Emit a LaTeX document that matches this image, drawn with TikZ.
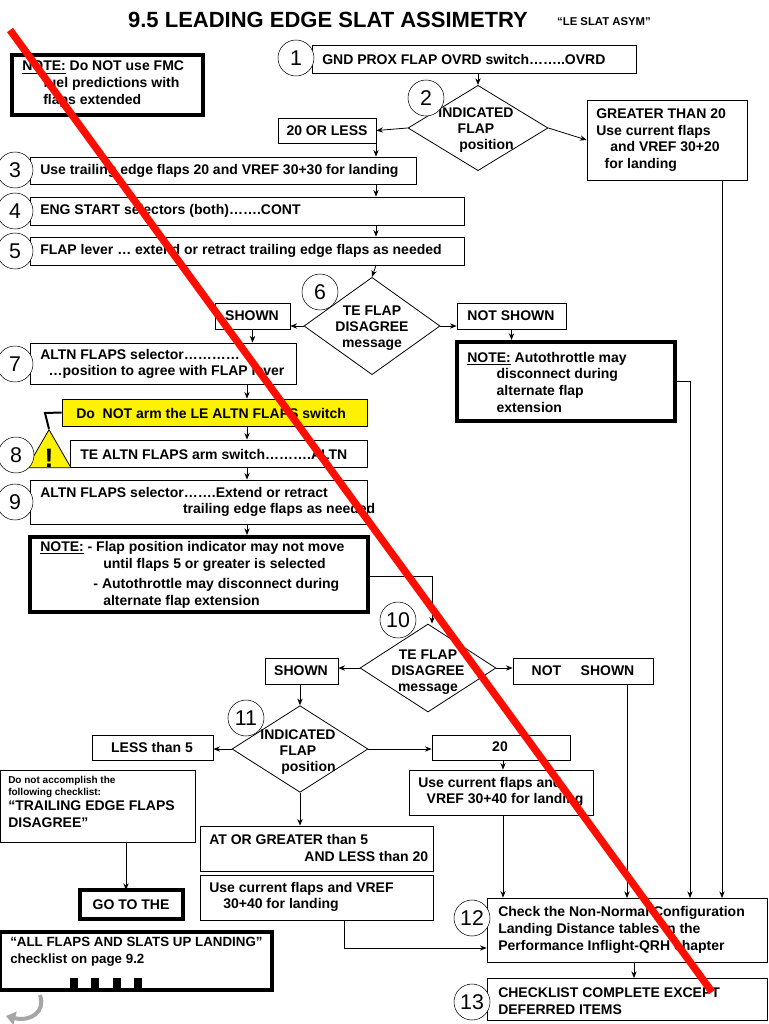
\documentclass[tikz,border=0pt]{standalone}
\usepackage{fontspec}
\setmainfont{Liberation Sans}
\usetikzlibrary{shapes.geometric,fit,arrows.meta}
\begin{document}
\begin{tikzpicture}[x=0.75pt,y=-0.75pt,
  box/.style={draw,line width=0.6pt,inner sep=0pt,fill=white},
  tbox/.style={draw,line width=3pt,inner sep=0pt,fill=white},
  txt/.style={font=\fontsize{10.5}{12.5}\selectfont\bfseries,anchor=west,align=left,inner sep=0pt},
  ctxt/.style={font=\fontsize{10.5}{12.5}\selectfont\bfseries,align=center,inner sep=0pt},
  num/.style={draw,circle,fill=white,minimum size=27pt,inner sep=0pt,font=\fontsize{16}{16}\selectfont},
  dia/.style={draw,diamond,fill=white,inner sep=0pt,line width=0.6pt},
  dtxt/.style={font=\fontsize{10.5}{12}\selectfont\bfseries,align=center,inner sep=0pt},
  arr/.style={-{Stealth[length=5pt,width=4pt]},line width=0.6pt},
  ln/.style={line width=0.6pt}]
\useasboundingbox (0,0) rectangle (768,1024);
\fill[white] (0,0) rectangle (768,1024);
% title
\node[font=\fontsize{16.5}{16.5}\selectfont\bfseries] (title) at (328,20) {9.5 LEADING EDGE SLAT ASSIMETRY};
\node[font=\fontsize{8.5}{8.5}\selectfont\bfseries] (sub) at (604,22) {“LE SLAT ASYM”};
% note top
\node[tbox,fit={(12,55)(203,115)}] (n0) {};
\node[txt] at (22,84) {\underline{NOTE:} Do NOT use FMC\\\hspace{1.5em}fuel predictions with\\\hspace{1.5em}flaps extended};
% step 1
\node[box,fit={(312,45)(636,73)}] (b1) {};
\node[txt] at (322,59) {GND PROX FLAP OVRD switch……..OVRD};
\node[num] (c1) at (296,58) {1};
% diamond 2
\node[dia,minimum width=105pt,minimum height=64pt] (d2) at (478,128) {};
\node[dtxt] (t2) at (476,130) {INDICATED\\FLAP\\\hspace{1.5em}position};
\node[num] (c2) at (426,98) {2};
\node[box,fit={(278,118)(376,143)}] (le20) {};
\node[ctxt] at (327,131) {20 OR LESS};
\node[box,fit={(587,100)(747,180)}] (gt20) {};
\node[txt] at (596,140) {GREATER THAN 20\\Use current flaps\\\hspace{1em}and VREF 30+20\\\hspace{0.6em}for landing};
\draw[arr] (b1.south -| d2.north) -- (d2.north);
\draw[arr] (d2.west) -- (le20.east);
\draw[arr] (d2.east) -- (gt20.west);
% 3 4 5
\node[box,fit={(30,157)(416,184)}] (b3) {};
\node[txt] at (40,171) {Use trailing edge flaps 20 and VREF 30+30 for landing};
\node[num] (c3) at (15,170) {3};
\node[box,fit={(30,197)(464,225)}] (b4) {};
\node[txt] at (40,211) {ENG START selectors (both)…….CONT};
\node[num] (c4) at (15,211) {4};
\node[box,fit={(30,237)(464,265)}] (b5) {};
\node[txt] at (40,251) {FLAP lever … extend or retract trailing edge flaps as needed};
\node[num] (c5) at (15,251) {5};
\coordinate (a3) at (376,143);
\draw[arr] (a3) -- (a3 |- b3.north);
\draw[arr] (a3 |- b3.south) -- (a3 |- b4.north);
\draw[arr] (a3 |- b4.south) -- (a3 |- b5.north);
% diamond 6
\node[dia,minimum width=102pt,minimum height=73pt] (d6) at (372,326) {};
\node[dtxt] (t6) at (372,328) {TE FLAP\\DISAGREE\\message};
\node[num] (c6) at (320,292) {6};
\draw[arr] (a3 |- b5.south) -- (d6.north);
\node[box,fit={(215,303)(290,329)}] (sh6) {};
\node[ctxt] at (252,316) {SHOWN};
\node[box,fit={(457,303)(566,329)}] (ns6) {};
\node[ctxt] at (511,316) {NOT SHOWN};
\draw[arr] (d6.west) -- (sh6.east |- d6.west);
\draw[arr] (d6.east) -- (ns6.west |- d6.east);
% 7
\node[box,fit={(30,343)(296,384)}] (b7) {};
\node[txt] at (40,364) {ALTN FLAPS selector…………\\\hspace{0.6em}…position to agree with FLAP lever};
\node[num] (c7) at (15,364) {7};
\draw[arr] (sh6.south) -- (sh6.south |- b7.north);
\node[tbox,fit={(457,342)(675,421)}] (n7) {};
\node[txt] at (467,382) {\underline{NOTE:} Autothrottle may\\\hspace{2.1em}disconnect during\\\hspace{2.1em}alternate flap\\\hspace{2.1em}extension};
\draw[arr] (ns6.south) -- (ns6.south |- n7.north);
% caution
\node[box,fill=yellow,fit={(62,399)(367,426)}] (yel) {};
\node[txt] at (76,413) {Do\ \ NOT arm the LE ALTN FLAPS switch};
\coordinate (a7) at (247,384);
\draw[arr] (a7) -- (a7 |- yel.north);
\node[draw,fill=yellow,regular polygon,regular polygon sides=3,minimum size=38pt,inner sep=0pt,line width=0.6pt] (warn) at (49,455) {};
\node[font=\fontsize{20}{20}\selectfont\bfseries] at (49,458) {!};
\draw[ln,line width=1.5pt] (yel.west) -- (45,413) -- (warn.north);
% 8 9
\node[box,fit={(70,440)(367,467)}] (b8) {};
\node[txt] at (80,454) {TE ALTN FLAPS arm switch……….ALTN};
\node[num] (c8) at (16,455) {8};
\node[box,fit={(30,480)(367,524)}] (b9) {};
\node[txt] at (40,502) {ALTN FLAPS selector…….Extend or retract\\\hspace{10.2em}trailing edge flaps as needed};
\node[num] (c9) at (15,502) {9};
\draw[arr] (a7 |- yel.south) -- (a7 |- b8.north);
\draw[arr] (a7 |- b8.south) -- (a7 |- b9.north);
\node[tbox,fit={(30,537)(368,612)}] (n9) {};
\node[txt] at (40,575) {\underline{NOTE:} - Flap position indicator may not move\\\hspace{4.5em}until flaps 5 or greater is selected\\[3pt]\hspace{3.8em}- Autothrottle may disconnect during\\\hspace{4.5em}alternate flap extension};
\draw[arr] (a7 |- b9.south) -- (a7 |- n9.north);
% diamond 10
\node[dia,minimum width=102pt,minimum height=66pt] (d10) at (428,668) {};
\node[dtxt] (t10) at (428,672) {TE FLAP\\DISAGREE\\message};
\node[num] (c10) at (398,620) {10};
\coordinate (k10) at (432,576);
\draw[ln] (368,576) -- (k10);
\draw[arr] (k10) -- (k10 |- d10.north);
\node[box,fit={(265,658)(338,684)}] (sh10) {};
\node[ctxt] at (301,671) {SHOWN};
\node[box,fit={(513,658)(653,684)}] (ns10) {};
\node[ctxt] at (583,671) {NOT\ \ \ \ \ SHOWN};
\draw[arr] (d10.west) -- (sh10.east |- d10.west);
\draw[arr] (d10.east) -- (ns10.west |- d10.east);
% diamond 11
\node[dia,minimum width=102pt,minimum height=65pt] (d11) at (300,749) {};
\node[dtxt] (t11) at (298,752) {INDICATED\\FLAP\\\hspace{1.5em}position};
\node[num] (c11) at (246,718) {11};
\draw[arr] (sh10.south -| d11.north) -- (d11.north);
\node[box,fit={(92,735)(213,760)}] (lt5) {};
\node[ctxt] at (152,747) {LESS than 5};
\node[box,fit={(432,735)(570,760)}] (f20) {};
\node[ctxt] at (500,747) {20};
\draw[arr] (d11.west) -- (lt5.east |- d11.west);
\draw[arr] (d11.east) -- (f20.west |- d11.east);
\node[box,fit={(409,770)(593,815)}] (u20) {};
\node[txt] at (418,792) {Use current flaps and\\\hspace{0.6em}VREF 30+40 for landing};
\coordinate (a20) at (503,760);
\draw[arr] (a20) -- (a20 |- u20.north);
% left branch
\node[box,fit={(0,770)(195,842)}] (dna) {};
\node[font=\fontsize{7.5}{9}\selectfont\bfseries,anchor=north west,align=left,inner sep=0pt] at (8,776) {Do not accomplish the\\following checklist:};
\node[txt] at (8,814) {“TRAILING EDGE FLAPS\\DISAGREE”};
\node[tbox,fit={(80,890)(183,919)}] (go) {};
\node[ctxt,font=\fontsize{10.5}{12}\selectfont\bfseries] at (131,905) {GO TO THE};
\draw[arr] (126,842) -- (126,890);
\node[tbox,fit={(0,932)(272,990)}] (all) {};
\node[txt,font=\fontsize{10}{12.5}\selectfont\bfseries] at (10,952) {“ALL FLAPS AND SLATS UP LANDING”\\checklist on page 9.2};
\foreach \x in {70,91,113,134} \fill (\x,978) rectangle (\x+8,990);
\draw[gray!70,line width=3pt,-{Triangle[length=7pt,width=10pt]}] (40,995) .. controls (46,1012) and (30,1022) .. (6,1016);
% middle
\node[box,fit={(200,826)(433,871)}] (ge5) {};
\node[txt] at (209,848) {AT OR GREATER than 5\\\hspace{6.8em}AND LESS than 20};
\draw[arr] (d11.south) -- (d11.south |- ge5.north);
\node[box,fit={(200,875)(433,920)}] (u5) {};
\node[txt] at (209,897) {Use current flaps and VREF\\\hspace{1em}30+40 for landing};
% 12 13
\node[box,fit={(487,898)(767,962)}] (b12) {};
\node[txt] at (498,930) {Check the Non-Normal Configuration\\Landing Distance tables in the\\Performance Inflight-QRH chapter};
\node[num] (c12) at (472,918) {12};
\node[box,fit={(487,978)(767,1020)}] (b13) {};
\node[txt] at (498,1001) {CHECKLIST COMPLETE EXCEPT\\DEFERRED ITEMS};
\node[num] (c13) at (472,1002) {13};
\draw[ln] (344,920) -- (344,948);
\draw[arr] (344,948) -- (b12.west |- 0,948);
\draw[arr] (u20.south -| a20) -- (a20 |- b12.north);
\draw[arr] (627,684) -- (627,898);
\draw[ln] (n7.east |- 0,381) -- (690,381);
\draw[arr] (690,381) -- (690,898);
\draw[arr] (722,180) -- (722,898);
\draw[arr] (634,962) -- (634,978);
% cross-out
\draw[red!90!orange,line width=5.5pt] (10,30) -- (712,992);
\end{tikzpicture}
\end{document}
